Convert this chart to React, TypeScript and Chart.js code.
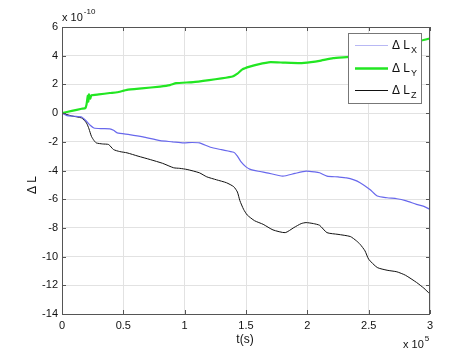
import React, { useEffect, useRef } from "react";
import { Chart, registerables } from "chart.js";

Chart.register(...registerables);

// x in units of 1e5 s, y in units of 1e-10
const lyX = [0, 0.08, 0.16, 0.19, 0.2, 0.21, 0.215, 0.22, 0.23, 0.24, 0.3, 0.39, 0.45, 0.53, 0.65, 0.8, 0.88, 0.93, 1.07, 1.2, 1.3, 1.39, 1.43, 1.47, 1.53, 1.6, 1.7, 1.8, 1.94, 2.03, 2.1, 2.21, 2.32, 2.45, 2.6, 2.75, 2.88, 2.93, 3.0];
const lyY = [0, 0.15, 0.3, 0.35, 0.6, 1.2, 0.8, 1.3, 1.0, 1.25, 1.3, 1.4, 1.45, 1.62, 1.72, 1.85, 1.95, 2.09, 2.16, 2.3, 2.42, 2.55, 2.75, 3.05, 3.24, 3.4, 3.55, 3.52, 3.48, 3.55, 3.64, 3.83, 3.9, 4.0, 4.2, 4.5, 4.85, 5.05, 5.2];

const lxX = [0, 0.04, 0.1, 0.16, 0.2, 0.23, 0.26, 0.33, 0.39, 0.42, 0.45, 0.55, 0.66, 0.8, 0.9, 0.99, 1.06, 1.12, 1.21, 1.3, 1.4, 1.43, 1.46, 1.5, 1.53, 1.6, 1.67, 1.8, 1.9, 1.99, 2.06, 2.1, 2.16, 2.25, 2.32, 2.38, 2.43, 2.51, 2.57, 2.65, 2.73, 2.8, 2.89, 2.95, 3.0];
const lxY = [0, -0.18, -0.22, -0.27, -0.57, -0.85, -1.04, -1.08, -1.1, -1.2, -1.38, -1.5, -1.66, -1.92, -2.0, -2.08, -2.05, -2.08, -2.38, -2.55, -2.73, -3.0, -3.4, -3.75, -3.9, -4.05, -4.16, -4.39, -4.2, -4.05, -4.1, -4.16, -4.39, -4.45, -4.51, -4.65, -4.85, -5.32, -5.78, -5.9, -5.97, -6.1, -6.36, -6.5, -6.71];

const lzX = [0, 0.08, 0.16, 0.2, 0.22, 0.24, 0.26, 0.28, 0.33, 0.38, 0.42, 0.47, 0.53, 0.62, 0.72, 0.82, 0.91, 0.96, 1.02, 1.12, 1.18, 1.26, 1.34, 1.4, 1.43, 1.45, 1.48, 1.51, 1.57, 1.64, 1.72, 1.82, 1.89, 1.95, 1.99, 2.05, 2.1, 2.16, 2.25, 2.35, 2.4, 2.43, 2.47, 2.5, 2.57, 2.65, 2.73, 2.8, 2.89, 2.95, 3.0];
const lzY = [0, -0.2, -0.34, -0.69, -1.1, -1.62, -1.9, -2.08, -2.15, -2.19, -2.54, -2.68, -2.77, -3.0, -3.24, -3.5, -3.81, -3.85, -3.93, -4.16, -4.44, -4.65, -4.85, -5.13, -5.5, -6.1, -6.7, -7.1, -7.5, -7.75, -8.14, -8.33, -7.98, -7.7, -7.63, -7.7, -7.82, -8.33, -8.45, -8.6, -8.9, -9.14, -9.6, -10.18, -10.76, -10.95, -11.06, -11.3, -11.8, -12.2, -12.61];

const xTicks = [0, 0.5, 1, 1.5, 2, 2.5, 3];
const yTicks = [6, 4, 2, 0, -2, -4, -6, -8, -10, -12, -14];

const seriesNames = ["X", "Y", "Z"];
const seriesColors = ["#6868ec", "#22e622", "#111111"];
const seriesWidths = [1.2, 2.2, 1];

const FONT = "'Liberation Sans', Arial, sans-serif";

const pts = (xs: number[], ys: number[]) => xs.map((x, i) => ({ x, y: ys[i] }));

const decorPlugin = {
  id: "decor",
  afterDatasetsDraw(chart: any) {
    const { ctx, chartArea: a, scales } = chart;
    ctx.save();
    ctx.strokeStyle = "#555";
    ctx.lineWidth = 1;
    ctx.strokeRect(a.left + 0.5, a.top + 0.5, a.right - a.left - 1, a.bottom - a.top);
    ctx.beginPath();
    const tl = 4;
    for (const v of xTicks) {
      const px = Math.round(scales.x.getPixelForValue(v)) + 0.5;
      ctx.moveTo(px, a.bottom);
      ctx.lineTo(px, a.bottom - tl);
      ctx.moveTo(px, a.top);
      ctx.lineTo(px, a.top + tl);
    }
    for (const v of yTicks) {
      const py = Math.round(scales.y.getPixelForValue(v)) + 0.5;
      ctx.moveTo(a.left, py);
      ctx.lineTo(a.left + tl, py);
      ctx.moveTo(a.right, py);
      ctx.lineTo(a.right - tl, py);
    }
    ctx.stroke();
    ctx.restore();
  },
  afterDraw(chart: any) {
    const { ctx, chartArea: a } = chart;
    ctx.save();
    ctx.fillStyle = "#111";
    // multipliers
    ctx.textBaseline = "alphabetic";
    ctx.textAlign = "left";
    ctx.font = `11px ${FONT}`;
    ctx.fillText("x 10", a.left, 21);
    let w = ctx.measureText("x 10").width;
    ctx.font = `8px ${FONT}`;
    ctx.fillText("-10", a.left + w + 1, 14);
    ctx.font = `11px ${FONT}`;
    ctx.fillText("x 10", 403, 348);
    w = ctx.measureText("x 10").width;
    ctx.font = `8px ${FONT}`;
    ctx.fillText("5", 403 + w + 1, 341);
    // axis titles
    ctx.font = `12px ${FONT}`;
    ctx.textAlign = "center";
    ctx.textBaseline = "middle";
    ctx.fillText("t(s)", 245, 340);
    ctx.save();
    ctx.translate(33, 185);
    ctx.rotate(-Math.PI / 2);
    ctx.fillText("\u0394 L", 0, 0);
    ctx.restore();
    // legend
    const lx = 348, ly = 33, lw = 73, lh = 70;
    ctx.fillStyle = "#fff";
    ctx.fillRect(lx, ly, lw, lh);
    ctx.strokeStyle = "#777";
    ctx.lineWidth = 1;
    ctx.strokeRect(lx + 0.5, ly + 0.5, lw, lh);
    const rows = [45, 68, 90];
    seriesNames.forEach((n, i) => {
      const y = rows[i];
      ctx.strokeStyle = i === 0 ? "#b8b8f4" : seriesColors[i];
      ctx.lineWidth = i === 1 ? 2.5 : 1;
      ctx.beginPath();
      ctx.moveTo(355, y + 0.5);
      ctx.lineTo(388, y + 0.5);
      ctx.stroke();
      ctx.fillStyle = "#111";
      ctx.textAlign = "left";
      ctx.textBaseline = "alphabetic";
      ctx.font = `12px ${FONT}`;
      ctx.fillText("\u0394 L", 392, y + 4);
      const tw = ctx.measureText("\u0394 L").width;
      ctx.font = `9px ${FONT}`;
      ctx.fillText(n, 392 + tw + 1, y + 8);
    });
    ctx.restore();
  },
};

export default function App() {
  const ref = useRef<HTMLCanvasElement>(null);
  useEffect(() => {
    const chart = new Chart(ref.current!, {
      type: "line",
      data: {
        datasets: [
          { label: "ΔLx", data: pts(lxX, lxY), borderColor: seriesColors[0], borderWidth: seriesWidths[0], pointRadius: 0, tension: 0.2 },
          { label: "ΔLy", data: pts(lyX, lyY), borderColor: seriesColors[1], borderWidth: seriesWidths[1], pointRadius: 0, tension: 0.1 },
          { label: "ΔLz", data: pts(lzX, lzY), borderColor: seriesColors[2], borderWidth: seriesWidths[2], pointRadius: 0, tension: 0.2 },
        ],
      },
      options: {
        responsive: false,
        animation: false,
        layout: { padding: { left: 0, top: 27, right: 44, bottom: 0 } },
        plugins: { legend: { display: false }, tooltip: { enabled: false } },
        scales: {
          x: {
            type: "linear",
            min: 0,
            max: 3,
            afterFit: (s: any) => { s.height = 41; },
            afterBuildTicks: (s: any) => { s.ticks = xTicks.map((v) => ({ value: v })); },
            ticks: { padding: 5, color: "#111", font: { family: FONT, size: 11 }, callback: (v: any) => String(v), maxRotation: 0, autoSkip: false },
            grid: { color: "#e2e2e2", drawTicks: false },
            border: { display: false },
          },
          y: {
            type: "linear",
            min: -14,
            max: 6,
            afterFit: (s: any) => { s.width = 62; },
            afterBuildTicks: (s: any) => { s.ticks = yTicks.map((v) => ({ value: v })); },
            ticks: { padding: 4, color: "#111", font: { family: FONT, size: 11 }, callback: (v: any) => String(v), autoSkip: false },
            grid: { color: "#e2e2e2", drawTicks: false },
            border: { display: false },
          },
        },
      },
      plugins: [decorPlugin],
    } as any);
    return () => chart.destroy();
  }, []);
  return (
    <div style={{ position: "absolute", left: 0, top: 0, width: 474, height: 355, background: "#fff" }}>
      <canvas ref={ref} width={474} height={355} style={{ display: "block" }} />
    </div>
  );
}
